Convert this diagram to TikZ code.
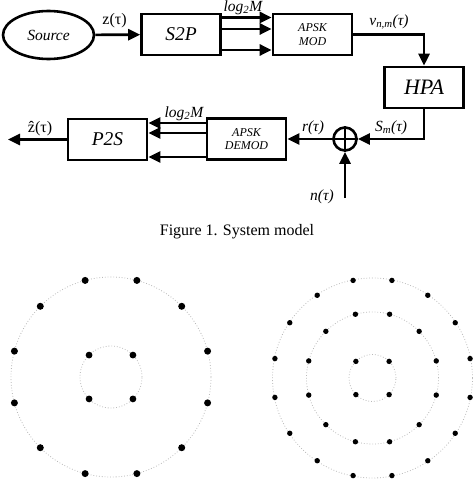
\documentclass[tikz,border=0pt]{standalone}
\usepackage{fontspec}
\setmainfont{Liberation Serif}
\usetikzlibrary{shapes.geometric,arrows.meta}
\tikzset{
  blk/.style={draw,line width=2.6pt,minimum width=79pt,minimum height=41pt,inner sep=0pt,font=\fontsize{19.5}{21}\selectfont\itshape},
  smallblk/.style={blk,font=\fontsize{12}{13.5}\selectfont\itshape,align=center},
  conn/.style={line width=2.6pt,-{Triangle[length=12pt,width=11pt]}},
  lbl/.style={font=\fontsize{15.5}{17}\selectfont\itshape,inner sep=0pt},
  ring/.style={draw=gray!55,dotted,line width=0.8pt},
}
\begin{document}
\begin{tikzpicture}[x=1pt,y=-1pt]
\useasboundingbox (0,0) rectangle (474,503);
% blocks
\node[draw,ellipse,line width=2.6pt,minimum width=91pt,minimum height=48pt,inner sep=0pt,font=\fontsize{15.5}{17}\selectfont\itshape] (src) at (48.5,35) {Source};
\node[blk] (s2p) at (181,34.5) {S2P};
\node[smallblk] (mod) at (312.5,34.5) {APSK\\MOD};
\node[blk,font=\fontsize{22}{24}\selectfont\itshape] (hpa) at (424,87.5) {HPA};
\node[draw,circle,line width=2.6pt,minimum size=23pt,inner sep=0pt] (sum) at (345,139) {};
\draw[line width=2pt] (sum.north) -- (sum.south) (sum.west) -- (sum.east);
\node[smallblk] (demod) at (246.5,139) {APSK\\DEMOD};
\node[blk] (p2s) at (107.5,139.5) {P2S};
\coordinate (out) at (8,139.5);
\coordinate (nin) at (345,198);
% connectors
\draw[conn] (src) -- (s2p);
\draw[conn] ([yshift=17pt]s2p.east) -- ([yshift=17pt]mod.west);
\draw[conn] ([yshift=5.5pt]s2p.east) -- ([yshift=5.5pt]mod.west);
\draw[conn] ([yshift=-15.5pt]s2p.east) -- ([yshift=-15.5pt]mod.west);
\draw[conn] (mod.east) -| (hpa.north);
\draw[conn] (hpa.south) |- (sum.east);
\draw[conn] (nin) -- (sum.south);
\draw[conn] (sum.west) -- (demod.east);
\draw[conn] ([yshift=16pt]demod.west) -- ([yshift=16.5pt]p2s.east);
\draw[conn] ([yshift=6pt]demod.west) -- ([yshift=6.5pt]p2s.east);
\draw[conn] ([yshift=-18pt]demod.west) -- ([yshift=-17.5pt]p2s.east);
\draw[conn] (p2s.west) -- (out);
% labels
\node[lbl,font=\fontsize{16}{17}\selectfont] (lz) at (114.5,21) {z(τ)};
\node[lbl] (llog1) at (243,8) {log\textsubscript{2}M};
\node[lbl] (lv) at (389,22) {v\textsubscript{n,m}(τ)};
\node[lbl] (ls) at (391,128) {S\textsubscript{m}(τ)};
\node[lbl] (lr) at (313,128) {r(τ)};
\node[lbl] (ln) at (322,197) {n(τ)};
\node[lbl] (llog2) at (184,114) {log\textsubscript{2}M};
\node[lbl,font=\fontsize{16}{17}\selectfont] (lzh) at (40,129) {ẑ(τ)};
% caption
\node[font=\fontsize{16}{17}\selectfont] (cap) at (237,232) {Figure 1. System model};
% left constellation (16-APSK)
\draw[ring] (111,377) circle[radius=100pt];
\draw[ring] (111,377) circle[radius=31pt];
\foreach \a in {15,45,...,345} \fill ({111+100*cos(\a)},{377+100*sin(\a)}) circle[radius=3.5pt];
\foreach \a in {45,135,225,315} \fill ({111+31*cos(\a)},{377+31*sin(\a)}) circle[radius=3.4pt];
% right constellation (32-APSK)
\draw[ring] (372.5,378) circle[radius=100pt];
\draw[ring] (372.5,378) circle[radius=66pt];
\draw[ring] (372.5,378) circle[radius=23.5pt];
\foreach \a in {11.25,33.75,...,350} \fill ({372.5+99.5*cos(\a)},{378+99.5*sin(\a)}) circle[radius=2.7pt];
\foreach \a in {15,45,...,345} \fill ({372.5+66*cos(\a)},{378+66*sin(\a)}) circle[radius=2.7pt];
\foreach \a in {45,135,225,315} \fill ({372.5+23.5*cos(\a)},{378+23.5*sin(\a)}) circle[radius=2.7pt];
\end{tikzpicture}
\end{document}
